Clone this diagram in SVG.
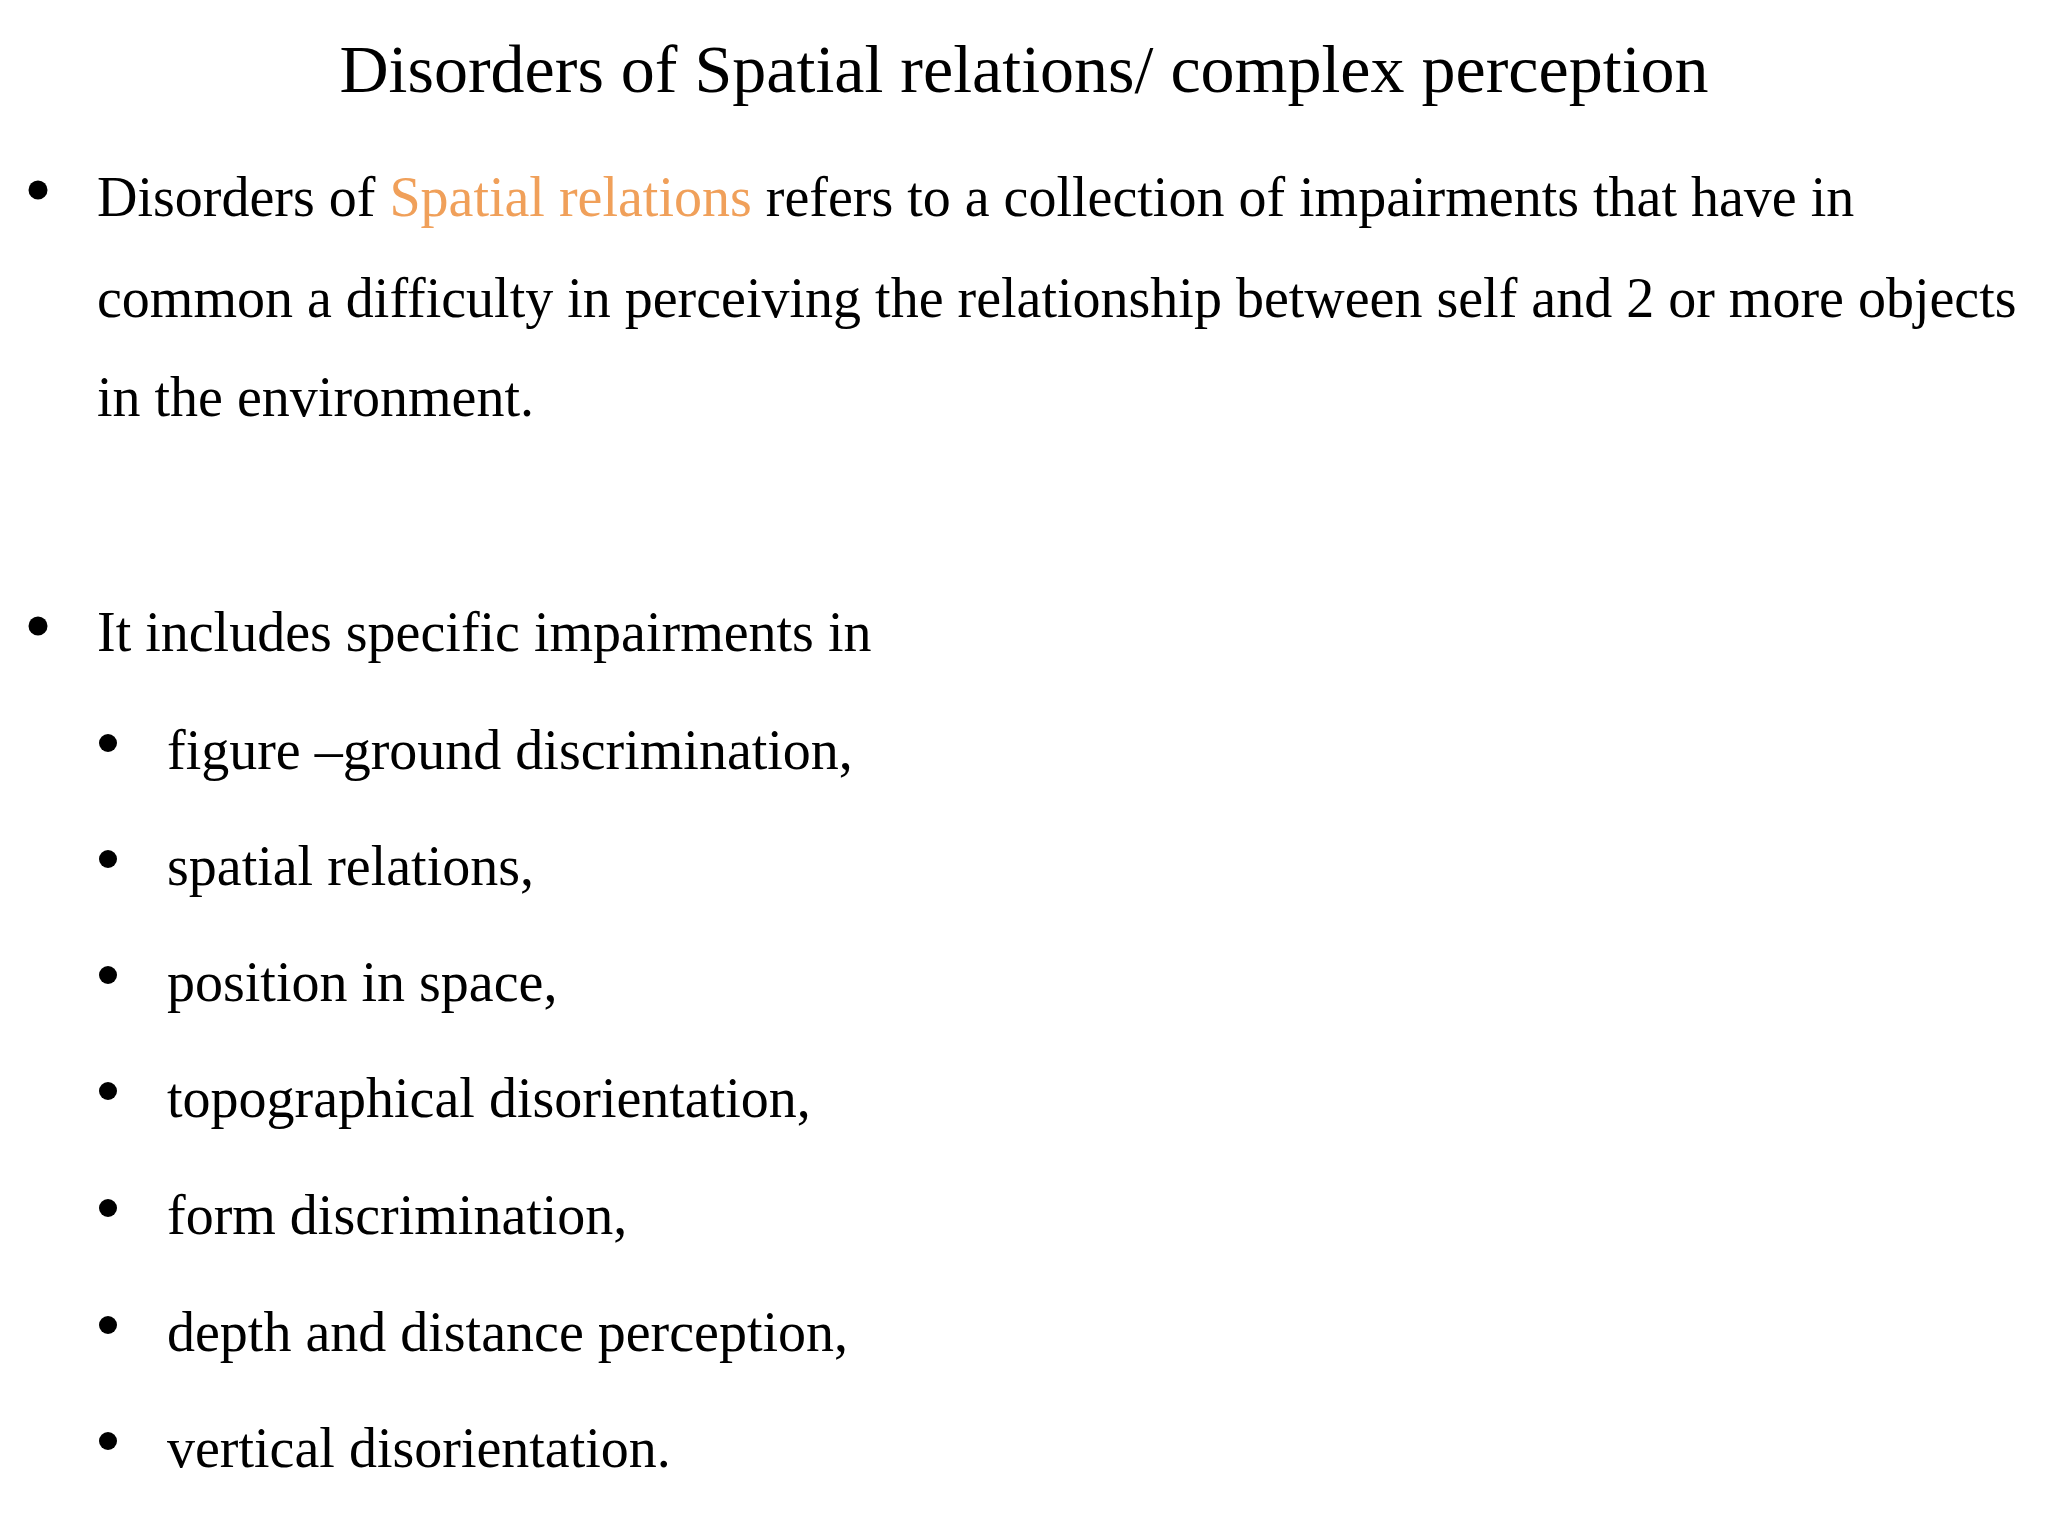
<svg xmlns="http://www.w3.org/2000/svg" width="2048" height="1536" viewBox="0 0 2048 1536">
<style>
text{font-family:"Liberation Serif","Times New Roman",serif;fill:#000}
.b{font-size:56px}
.o{fill:#F0A05A}
</style>
<rect width="2048" height="1536" fill="#fff"/>
<text x="1024" y="92" font-size="68" text-anchor="middle">Disorders of Spatial relations/ complex perception</text>
<g id="bullets" fill="#000">
<circle cx="38" cy="190" r="9.5"/>
<circle cx="38" cy="626" r="9.5"/>
<circle cx="108" cy="743" r="9"/>
<circle cx="108" cy="859" r="9"/>
<circle cx="108" cy="975" r="9"/>
<circle cx="108" cy="1091" r="9"/>
<circle cx="108" cy="1208" r="9"/>
<circle cx="108" cy="1325" r="9"/>
<circle cx="108" cy="1441" r="9"/>
</g>
<g id="text">
<text class="b" x="97" y="216">Disorders of <tspan class="o">Spatial relations</tspan> refers to a collection of impairments that have in</text>
<text class="b" x="97" y="317">common a difficulty in perceiving the relationship between self and 2 or more objects</text>
<text class="b" x="97" y="416">in the environment.</text>
<text class="b" x="97" y="651">It includes specific impairments in</text>
<text class="b" x="167" y="769">figure –ground discrimination,</text>
<text class="b" x="167" y="885">spatial relations,</text>
<text class="b" x="167" y="1001">position in space,</text>
<text class="b" x="167" y="1117">topographical disorientation,</text>
<text class="b" x="167" y="1234">form discrimination,</text>
<text class="b" x="167" y="1351">depth and distance perception,</text>
<text class="b" x="167" y="1467">vertical disorientation.</text>
</g>
</svg>
